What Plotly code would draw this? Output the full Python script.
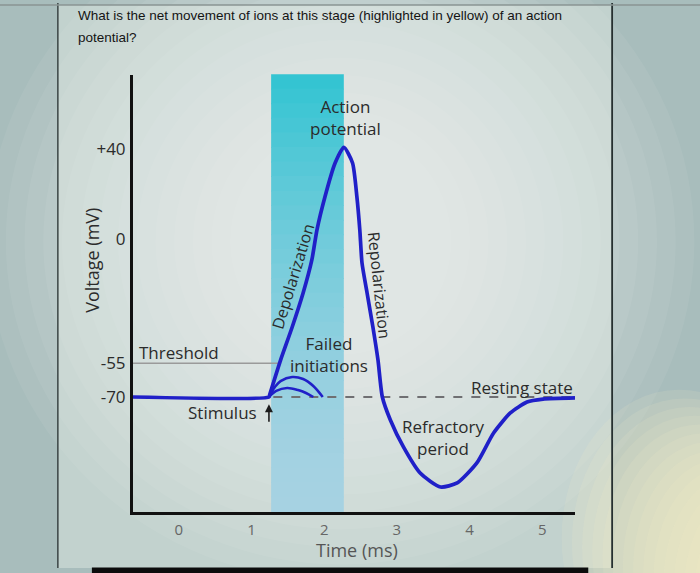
import plotly.graph_objects as go

# ---- data ----
time_ms = [-0.63, 1.24, 1.25, 1.40, 1.56, 1.71, 1.83, 1.90, 2.01, 2.15, 2.27, 2.39,
           2.45, 2.49, 2.52, 2.59, 2.67, 2.74, 2.80, 2.91, 3.09, 3.32, 3.60, 3.83,
           4.10, 4.33, 4.56, 4.79, 5.01, 5.45]
voltage_mv = [-70, -70, -69, -53.6, -38.9, -23.8, -9.1, 4.2, 18.9, 34.0, 41, 34,
              18.9, 4.2, -10.4, -23.8, -38.9, -53.6, -70, -80.2, -92.2, -103.8, -110,
              -108.2, -99.3, -86, -77.1, -72.2, -70.9, -70.4]

failed1_t = [1.24, 1.32, 1.40, 1.56, 1.71, 1.85, 1.98]
failed1_v = [-70, -65.6, -62.9, -61.1, -62.0, -65.1, -70]
failed2_t = [1.24, 1.34, 1.49, 1.64, 1.75, 1.85]
failed2_v = [-70, -67.3, -66.0, -66.9, -68.2, -70]

resting_t = [1.30, 5.45]
resting_v = [-70, -70]
threshold_t = [-0.63, 1.38]
threshold_v = [-55, -55]

highlight_t = [1.27, 2.27]
stimulus_t = 1.24

x_ticks = [0, 1, 2, 3, 4, 5]
y_ticks = [40, 0, -55, -70]
y_ticktext = ["+40", "0", "-55", "-70"]

x_range = [-0.63, 5.45]
y_range = [-121.1, 73.1]

BLUE = "#2020c8"
FONT = "Open Sans"
QFONT = "Liberation Sans Narrow, Arial Narrow, sans-serif"

fig = go.Figure()

fig.add_trace(go.Scatter(x=threshold_t, y=threshold_v, mode="lines",
                         line=dict(color="#9a9a9a", width=1.5), hoverinfo="skip",
                         cliponaxis=False))
fig.add_trace(go.Scatter(x=resting_t, y=resting_v, mode="lines",
                         line=dict(color="#6f6f72", width=2.2, dash="dash"),
                         hoverinfo="skip", cliponaxis=False))
fig.add_trace(go.Scatter(x=failed1_t, y=failed1_v, mode="lines", line_shape="spline",
                         line=dict(color=BLUE, width=2.6), hoverinfo="skip"))
fig.add_trace(go.Scatter(x=failed2_t, y=failed2_v, mode="lines", line_shape="spline",
                         line=dict(color=BLUE, width=2.6), hoverinfo="skip"))
fig.add_trace(go.Scatter(x=time_ms, y=voltage_mv, mode="lines",
                         line=dict(color=BLUE, width=3.7, shape="spline", smoothing=0.6),
                         hoverinfo="skip", cliponaxis=False))

shapes = []
# photographed screen panel
shapes.append(dict(type="rect", xref="paper", yref="paper", x0=-0.170, x1=1.084,
                   y0=-0.128, y1=1.160, fillcolor="#c2d2ce", line_width=0, layer="below"))
# soft central glow (many faint layers -> smooth)
n_glow = 14
for i in range(n_glow):
    f = i / (n_glow - 1)
    rx = 0.80 - 0.55 * f
    ry = 0.78 - 0.52 * f
    shapes.append(dict(type="circle", xref="paper", yref="paper",
                       x0=0.47 - rx, x1=0.47 + rx, y0=0.62 - ry, y1=0.62 + ry,
                       fillcolor="white", opacity=0.06, line_width=0, layer="below"))
# glare in bottom-right corner (smooth, faint layers)
n_glare = 14
for i in range(n_glare):
    f = i / (n_glare - 1)
    shapes.append(dict(type="circle", xref="paper", yref="paper",
                       x0=1.32 - 0.30 * (1 - f) - 0.05, x1=1.50,
                       y0=-0.40, y1=0.02 + 0.26 * (1 - f),
                       fillcolor="#fbf3c8", opacity=0.13, line_width=0, layer="below"))
# panel frame lines
shapes.append(dict(type="line", xref="paper", yref="paper", x0=-0.170, x1=-0.170,
                   y0=-0.128, y1=1.165, line=dict(color="#3a4444", width=1.5), layer="below"))
shapes.append(dict(type="line", xref="paper", yref="paper", x0=1.084, x1=1.084,
                   y0=-0.128, y1=1.165, line=dict(color="#263030", width=1.8), layer="below"))
shapes.append(dict(type="line", xref="paper", yref="paper", x0=-0.31, x1=1.30,
                   y0=1.160, y1=1.160, line=dict(color="#8a9593", width=1.5), layer="below"))
# black bar at the bottom
shapes.append(dict(type="rect", xref="paper", yref="paper", x0=-0.093, x1=1.03,
                   y0=-0.145, y1=-0.127, fillcolor="#0c0c0c", line_width=0, layer="below"))

# highlighted band (gradient from cyan at top to pale blue at bottom)
n_bands = 30
top_c = (52, 196, 210)
bot_c = (166, 210, 226)
for i in range(n_bands):
    f = i / (n_bands - 1)
    g = 1 - (1 - f) ** 1.6
    c = tuple(int(round(top_c[k] + (bot_c[k] - top_c[k]) * g)) for k in range(3))
    shapes.append(dict(type="rect", xref="x", yref="paper",
                       x0=highlight_t[0], x1=highlight_t[1],
                       y0=1 - (i + 1) / n_bands, y1=1 - i / n_bands + 0.002,
                       fillcolor="rgb(%d,%d,%d)" % c, line_width=0, layer="below"))

annotations = []
lab = dict(color="#2b2b2b", size=17, family=FONT)
rot = dict(color="#2b2b2b", size=16, family=FONT)
annotations += [
    dict(x=2.29, y=54, text="Action<br>potential", showarrow=False, font=lab),
    dict(x=1.57, y=-16.2, text="Depolarization", textangle=-73, showarrow=False, font=rot),
    dict(x=2.76, y=-20.2, text="Repolarization", textangle=84, showarrow=False, font=rot),
    dict(x=2.07, y=-51.3, text="Failed<br>initiations", showarrow=False, font=lab),
    dict(x=-0.58, y=-50, text="Threshold", xanchor="left", showarrow=False, font=lab),
    dict(x=5.45, y=-65.6, text="Resting state", xanchor="right", showarrow=False, font=lab),
    dict(x=1.10, y=-77.1, text="Stimulus", xanchor="right", showarrow=False, font=lab),
    dict(x=3.64, y=-88.2, text="Refractory<br>period", showarrow=False, font=lab),
    dict(x=stimulus_t, y=-73.2, ax=0, ay=19, text="", showarrow=True, arrowhead=2,
         arrowsize=1, arrowwidth=1.6, arrowcolor="#1c1c1c"),
    dict(xref="paper", yref="paper", x=-0.093, y=0.577, xanchor="center", yanchor="middle",
         text="Voltage (mV)", textangle=-90, showarrow=False,
         font=dict(color="#2b2b2b", size=18, family=FONT)),
    dict(xref="paper", yref="paper", x=0.507, y=-0.087, xanchor="center", yanchor="middle",
         text="Time (ms)", showarrow=False,
         font=dict(color="#555555", size=18, family=FONT)),
    dict(xref="paper", yref="paper", x=-0.129, y=1.137, xanchor="left", yanchor="middle",
         text="What is the net movement of ions at this stage (highlighted in yellow) of an action",
         showarrow=False, font=dict(color="#141414", size=13.5, family=QFONT)),
    dict(xref="paper", yref="paper", x=-0.129, y=1.085, xanchor="left", yanchor="middle",
         text="potential?", showarrow=False,
         font=dict(color="#141414", size=13.5, family=QFONT)),
]

fig.update_layout(
    width=700, height=573,
    margin=dict(l=133, r=125, t=75, b=61),
    paper_bgcolor="#a8bdbc",
    plot_bgcolor="rgba(0,0,0,0)",
    showlegend=False,
    shapes=shapes,
    annotations=annotations,
    xaxis=dict(range=x_range, tickvals=x_ticks, showgrid=False, zeroline=False,
               showline=True, linecolor="#111111", linewidth=3, ticks="",
               tickfont=dict(color="#666666", size=15, family=FONT), ticklabelstandoff=2),
    yaxis=dict(range=y_range, tickvals=y_ticks, ticktext=y_ticktext, showgrid=False,
               zeroline=False, showline=True, linecolor="#111111", linewidth=3, ticks="",
               tickfont=dict(color="#2b2b2b", size=17, family=FONT), ticklabelstandoff=1),
)

fig.write_html("out.html")
